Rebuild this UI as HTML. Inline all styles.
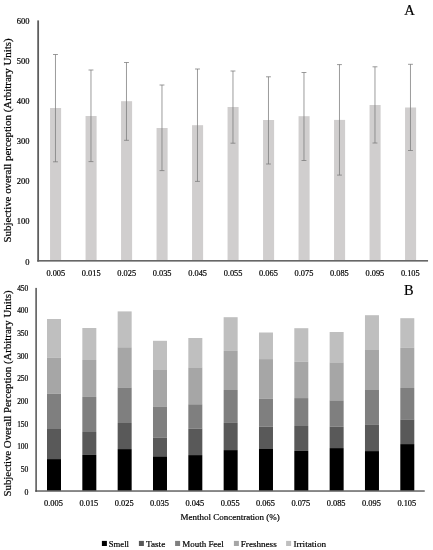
<!DOCTYPE html>
<html><head><meta charset="utf-8"><title>Figure</title>
<style>
html,body{margin:0;padding:0;background:#fff;}
svg{display:block;font-family:"Liberation Serif",serif;}
text{fill:#000;stroke:#000;stroke-width:0.2px;}
</style></head><body>
<svg width="433" height="550" viewBox="0 0 433 550">
<rect width="433" height="550" fill="#ffffff"/>

<rect x="50.05" y="108" width="11.05" height="152.00" fill="#d0cece"/>
<rect x="85.55" y="116" width="11.05" height="144.00" fill="#d0cece"/>
<rect x="121.05" y="101.2" width="11.05" height="158.80" fill="#d0cece"/>
<rect x="156.55" y="128" width="11.05" height="132.00" fill="#d0cece"/>
<rect x="192.05" y="125.2" width="11.05" height="134.80" fill="#d0cece"/>
<rect x="227.55" y="107" width="11.05" height="153.00" fill="#d0cece"/>
<rect x="263.05" y="120" width="11.05" height="140.00" fill="#d0cece"/>
<rect x="298.55" y="116.2" width="11.05" height="143.80" fill="#d0cece"/>
<rect x="334.05" y="119.9" width="11.05" height="140.10" fill="#d0cece"/>
<rect x="369.55" y="105" width="11.05" height="155.00" fill="#d0cece"/>
<rect x="405.05" y="107.5" width="11.05" height="152.50" fill="#d0cece"/>
<path d="M55.47 54.5V161.8M53.02 54.5H57.92M53.02 161.8H57.92" stroke="#7a7a7a" stroke-width="0.75" fill="none"/>
<path d="M90.98 70V161.6M88.53 70H93.43M88.53 161.6H93.43" stroke="#7a7a7a" stroke-width="0.75" fill="none"/>
<path d="M126.48 62.5V140.3M124.03 62.5H128.93M124.03 140.3H128.93" stroke="#7a7a7a" stroke-width="0.75" fill="none"/>
<path d="M161.98 85V170.6M159.53 85H164.43M159.53 170.6H164.43" stroke="#7a7a7a" stroke-width="0.75" fill="none"/>
<path d="M197.48 69V181.4M195.03 69H199.93M195.03 181.4H199.93" stroke="#7a7a7a" stroke-width="0.75" fill="none"/>
<path d="M232.98 71V143.2M230.53 71H235.43M230.53 143.2H235.43" stroke="#7a7a7a" stroke-width="0.75" fill="none"/>
<path d="M268.47 76.8V164M266.02 76.8H270.92M266.02 164H270.92" stroke="#7a7a7a" stroke-width="0.75" fill="none"/>
<path d="M303.97 72.5V160.5M301.52 72.5H306.42M301.52 160.5H306.42" stroke="#7a7a7a" stroke-width="0.75" fill="none"/>
<path d="M339.47 64.6V175.1M337.02 64.6H341.92M337.02 175.1H341.92" stroke="#7a7a7a" stroke-width="0.75" fill="none"/>
<path d="M374.97 66.8V143M372.52 66.8H377.42M372.52 143H377.42" stroke="#7a7a7a" stroke-width="0.75" fill="none"/>
<path d="M410.47 64.3V150.5M408.02 64.3H412.92M408.02 150.5H412.92" stroke="#7a7a7a" stroke-width="0.75" fill="none"/>
<rect x="37.25" y="20.4" width="1.8" height="241.2" fill="#5e5e5e"/>
<rect x="37.25" y="260.05" width="390.8" height="1.55" fill="#606060"/>
<text x="29.6" y="264.50" font-size="8.5" text-anchor="end">0</text>
<text x="29.6" y="224.38" font-size="8.5" text-anchor="end">100</text>
<text x="29.6" y="184.25" font-size="8.5" text-anchor="end">200</text>
<text x="29.6" y="144.13" font-size="8.5" text-anchor="end">300</text>
<text x="29.6" y="104.00" font-size="8.5" text-anchor="end">400</text>
<text x="29.6" y="63.88" font-size="8.5" text-anchor="end">500</text>
<text x="29.6" y="23.75" font-size="8.5" text-anchor="end">600</text>
<text x="55.80" y="276.1" font-size="8.35" text-anchor="middle">0.005</text>
<text x="91.25" y="276.1" font-size="8.35" text-anchor="middle">0.015</text>
<text x="126.70" y="276.1" font-size="8.35" text-anchor="middle">0.025</text>
<text x="162.15" y="276.1" font-size="8.35" text-anchor="middle">0.035</text>
<text x="197.60" y="276.1" font-size="8.35" text-anchor="middle">0.045</text>
<text x="233.05" y="276.1" font-size="8.35" text-anchor="middle">0.055</text>
<text x="268.50" y="276.1" font-size="8.35" text-anchor="middle">0.065</text>
<text x="303.95" y="276.1" font-size="8.35" text-anchor="middle">0.075</text>
<text x="339.40" y="276.1" font-size="8.35" text-anchor="middle">0.085</text>
<text x="374.85" y="276.1" font-size="8.35" text-anchor="middle">0.095</text>
<text x="410.30" y="276.1" font-size="8.35" text-anchor="middle">0.105</text>
<text transform="translate(11,242.5) rotate(-90)" font-size="9.8" textLength="204.2" lengthAdjust="spacingAndGlyphs">Subjective overall perception (Arbitrary Units)</text>
<text x="404.3" y="14.7" font-size="14.6" stroke="none">A</text>
<rect x="47.00" y="319" width="14" height="38.60" fill="#bfbfbf"/>
<rect x="47.00" y="357.6" width="14" height="36.10" fill="#a6a6a6"/>
<rect x="47.00" y="393.7" width="14" height="35.30" fill="#7f7f7f"/>
<rect x="47.00" y="429" width="14" height="30.10" fill="#595959"/>
<rect x="47.00" y="459.1" width="14" height="31.50" fill="#000000"/>
<rect x="82.33" y="328" width="14" height="32.00" fill="#bfbfbf"/>
<rect x="82.33" y="360" width="14" height="36.90" fill="#a6a6a6"/>
<rect x="82.33" y="396.9" width="14" height="35.10" fill="#7f7f7f"/>
<rect x="82.33" y="432" width="14" height="22.90" fill="#595959"/>
<rect x="82.33" y="454.9" width="14" height="35.70" fill="#000000"/>
<rect x="117.66" y="311.4" width="14" height="35.90" fill="#bfbfbf"/>
<rect x="117.66" y="347.3" width="14" height="40.20" fill="#a6a6a6"/>
<rect x="117.66" y="387.5" width="14" height="35.50" fill="#7f7f7f"/>
<rect x="117.66" y="423.0" width="14" height="26.10" fill="#595959"/>
<rect x="117.66" y="449.1" width="14" height="41.50" fill="#000000"/>
<rect x="152.99" y="340.8" width="14" height="29.20" fill="#bfbfbf"/>
<rect x="152.99" y="370" width="14" height="36.90" fill="#a6a6a6"/>
<rect x="152.99" y="406.9" width="14" height="30.90" fill="#7f7f7f"/>
<rect x="152.99" y="437.8" width="14" height="18.60" fill="#595959"/>
<rect x="152.99" y="456.4" width="14" height="34.20" fill="#000000"/>
<rect x="188.32" y="338" width="14" height="29.40" fill="#bfbfbf"/>
<rect x="188.32" y="367.4" width="14" height="36.90" fill="#a6a6a6"/>
<rect x="188.32" y="404.3" width="14" height="24.40" fill="#7f7f7f"/>
<rect x="188.32" y="428.7" width="14" height="26.40" fill="#595959"/>
<rect x="188.32" y="455.1" width="14" height="35.50" fill="#000000"/>
<rect x="223.65" y="317.2" width="14" height="33.70" fill="#bfbfbf"/>
<rect x="223.65" y="350.9" width="14" height="39.10" fill="#a6a6a6"/>
<rect x="223.65" y="390" width="14" height="32.90" fill="#7f7f7f"/>
<rect x="223.65" y="422.9" width="14" height="27.20" fill="#595959"/>
<rect x="223.65" y="450.1" width="14" height="40.50" fill="#000000"/>
<rect x="258.98" y="332.5" width="14" height="26.60" fill="#bfbfbf"/>
<rect x="258.98" y="359.1" width="14" height="39.60" fill="#a6a6a6"/>
<rect x="258.98" y="398.7" width="14" height="28.00" fill="#7f7f7f"/>
<rect x="258.98" y="426.7" width="14" height="22.30" fill="#595959"/>
<rect x="258.98" y="449.0" width="14" height="41.60" fill="#000000"/>
<rect x="294.31" y="328.2" width="14" height="33.50" fill="#bfbfbf"/>
<rect x="294.31" y="361.7" width="14" height="36.40" fill="#a6a6a6"/>
<rect x="294.31" y="398.1" width="14" height="27.90" fill="#7f7f7f"/>
<rect x="294.31" y="426" width="14" height="24.90" fill="#595959"/>
<rect x="294.31" y="450.9" width="14" height="39.70" fill="#000000"/>
<rect x="329.64" y="332" width="14" height="30.40" fill="#bfbfbf"/>
<rect x="329.64" y="362.4" width="14" height="38.00" fill="#a6a6a6"/>
<rect x="329.64" y="400.4" width="14" height="26.30" fill="#7f7f7f"/>
<rect x="329.64" y="426.7" width="14" height="21.40" fill="#595959"/>
<rect x="329.64" y="448.1" width="14" height="42.50" fill="#000000"/>
<rect x="364.97" y="315.2" width="14" height="34.80" fill="#bfbfbf"/>
<rect x="364.97" y="350.0" width="14" height="40.00" fill="#a6a6a6"/>
<rect x="364.97" y="390" width="14" height="34.90" fill="#7f7f7f"/>
<rect x="364.97" y="424.9" width="14" height="26.20" fill="#595959"/>
<rect x="364.97" y="451.1" width="14" height="39.50" fill="#000000"/>
<rect x="400.30" y="318.2" width="14" height="29.60" fill="#bfbfbf"/>
<rect x="400.30" y="347.8" width="14" height="40.20" fill="#a6a6a6"/>
<rect x="400.30" y="388" width="14" height="31.40" fill="#7f7f7f"/>
<rect x="400.30" y="419.4" width="14" height="24.70" fill="#595959"/>
<rect x="400.30" y="444.1" width="14" height="46.50" fill="#000000"/>
<rect x="35.25" y="287.9" width="1.75" height="203.8" fill="#6a6a6a"/>
<rect x="35.25" y="490.4" width="389.5" height="1.25" fill="#454545"/>
<text x="28.35" y="494.60" font-size="8.2" text-anchor="end" textLength="3.9" lengthAdjust="spacingAndGlyphs">0</text>
<text x="28.35" y="471.94" font-size="8.2" text-anchor="end" textLength="7.6" lengthAdjust="spacingAndGlyphs">50</text>
<text x="28.35" y="449.28" font-size="8.2" text-anchor="end" textLength="11.2" lengthAdjust="spacingAndGlyphs">100</text>
<text x="28.35" y="426.62" font-size="8.2" text-anchor="end" textLength="11.2" lengthAdjust="spacingAndGlyphs">150</text>
<text x="28.35" y="403.96" font-size="8.2" text-anchor="end" textLength="11.2" lengthAdjust="spacingAndGlyphs">200</text>
<text x="28.35" y="381.30" font-size="8.2" text-anchor="end" textLength="11.2" lengthAdjust="spacingAndGlyphs">250</text>
<text x="28.35" y="358.64" font-size="8.2" text-anchor="end" textLength="11.2" lengthAdjust="spacingAndGlyphs">300</text>
<text x="28.35" y="335.98" font-size="8.2" text-anchor="end" textLength="11.2" lengthAdjust="spacingAndGlyphs">350</text>
<text x="28.35" y="313.32" font-size="8.2" text-anchor="end" textLength="11.2" lengthAdjust="spacingAndGlyphs">400</text>
<text x="28.35" y="290.66" font-size="8.2" text-anchor="end" textLength="11.2" lengthAdjust="spacingAndGlyphs">450</text>
<text x="53.50" y="506.4" font-size="8.4" text-anchor="middle">0.005</text>
<text x="88.83" y="506.4" font-size="8.4" text-anchor="middle">0.015</text>
<text x="124.16" y="506.4" font-size="8.4" text-anchor="middle">0.025</text>
<text x="159.49" y="506.4" font-size="8.4" text-anchor="middle">0.035</text>
<text x="194.82" y="506.4" font-size="8.4" text-anchor="middle">0.045</text>
<text x="230.15" y="506.4" font-size="8.4" text-anchor="middle">0.055</text>
<text x="265.48" y="506.4" font-size="8.4" text-anchor="middle">0.065</text>
<text x="300.81" y="506.4" font-size="8.4" text-anchor="middle">0.075</text>
<text x="336.14" y="506.4" font-size="8.4" text-anchor="middle">0.085</text>
<text x="371.47" y="506.4" font-size="8.4" text-anchor="middle">0.095</text>
<text x="406.80" y="506.4" font-size="8.4" text-anchor="middle">0.105</text>
<text transform="translate(11,496.5) rotate(-90)" font-size="9.8" textLength="206" lengthAdjust="spacingAndGlyphs">Subjective Overall Perception (Arbitrary Units)</text>
<text x="404.1" y="295.2" font-size="14.4" stroke="none">B</text>
<text x="180.6" y="519.9" font-size="9.1" textLength="99.2" lengthAdjust="spacingAndGlyphs">Menthol Concentration (%)</text>
<rect x="101.9" y="540.9" width="5" height="5.1" fill="#000000"/>
<text x="108.7" y="546.5" font-size="9.2" textLength="20.30" lengthAdjust="spacingAndGlyphs">Smell</text>
<rect x="138.9" y="540.9" width="5" height="5.1" fill="#595959"/>
<text x="145.9" y="546.5" font-size="9.2" textLength="19.40" lengthAdjust="spacingAndGlyphs">Taste</text>
<rect x="175.1" y="540.9" width="5" height="5.1" fill="#7f7f7f"/>
<text x="182.3" y="546.5" font-size="9.2" textLength="41.50" lengthAdjust="spacingAndGlyphs">Mouth Feel</text>
<rect x="233.9" y="540.9" width="5" height="5.1" fill="#a6a6a6"/>
<text x="240.8" y="546.5" font-size="9.2" textLength="35.90" lengthAdjust="spacingAndGlyphs">Freshness</text>
<rect x="286.1" y="540.9" width="5" height="5.1" fill="#bfbfbf"/>
<text x="293.4" y="546.5" font-size="9.2" textLength="32.70" lengthAdjust="spacingAndGlyphs">Irritation</text>
</svg>
</body></html>
